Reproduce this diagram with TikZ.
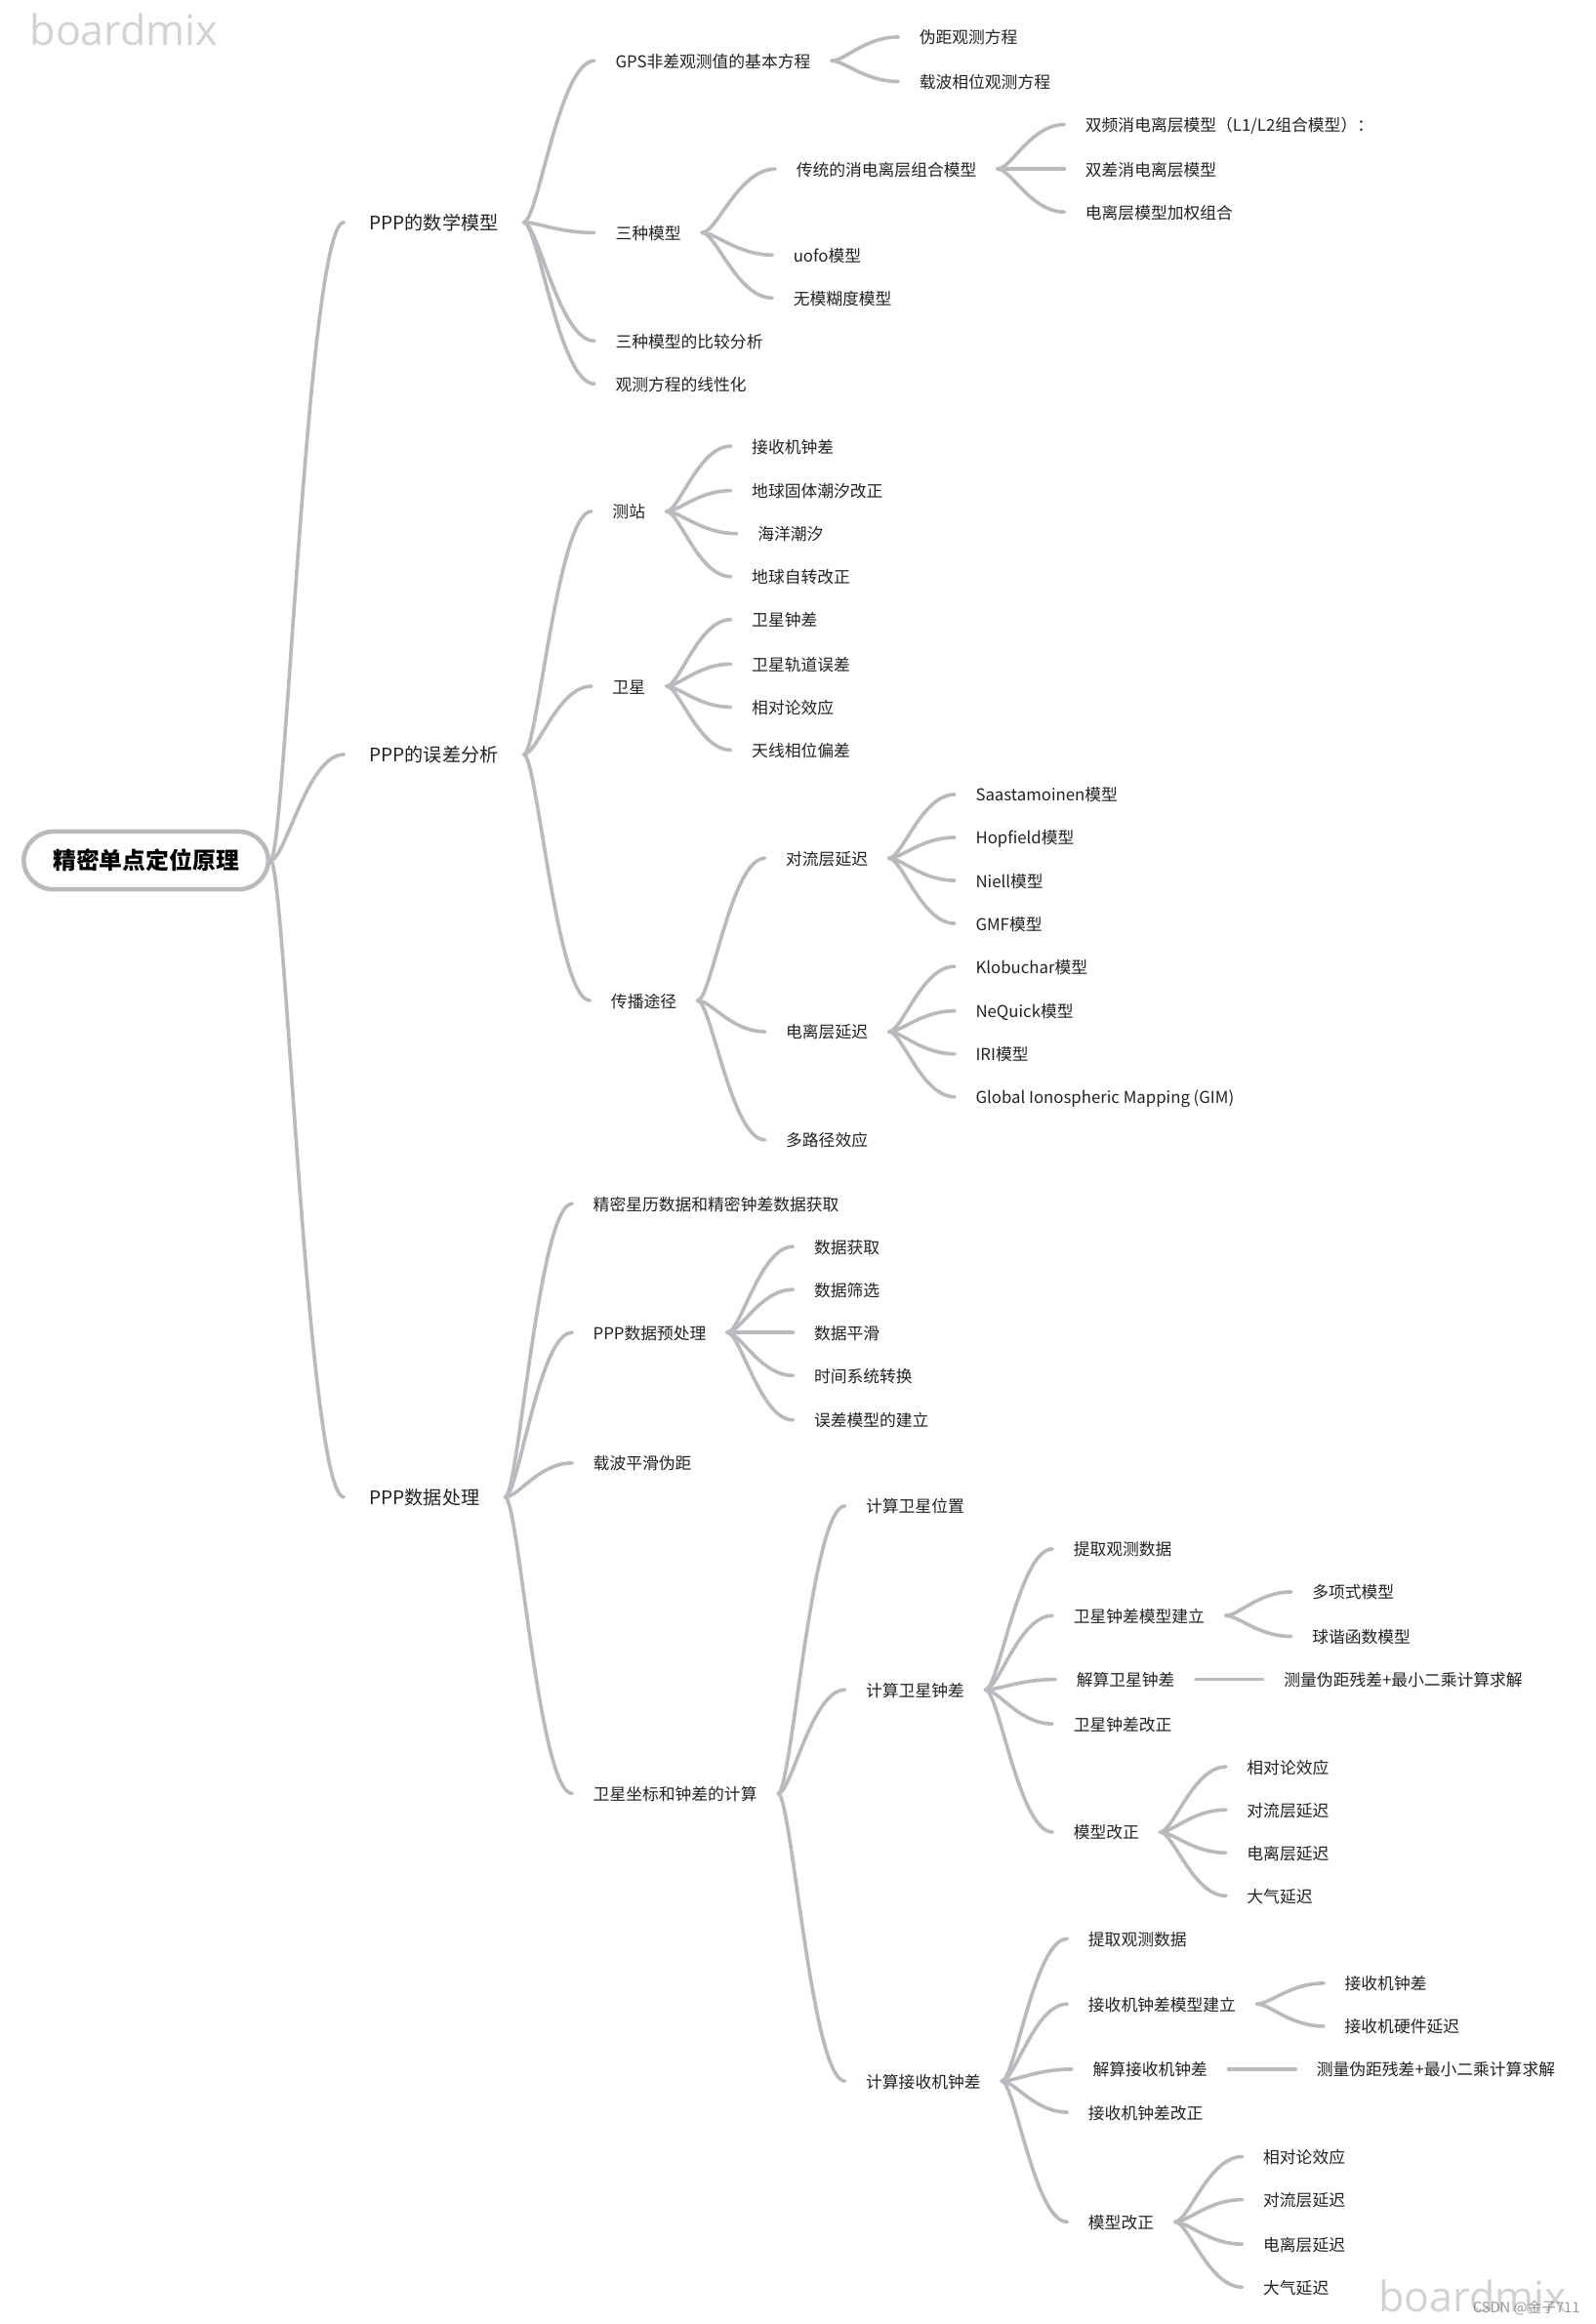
\documentclass[tikz,border=0pt]{standalone}
\usepackage{fontspec}
\setmainfont{Noto Sans CJK SC}
\newfontfamily\markfont{Open Sans}
\usetikzlibrary{calc}
\definecolor{twigcol}{HTML}{B9BABD}
\definecolor{inkcol}{HTML}{222222}
\definecolor{markcol}{HTML}{D2D2D2}
\tikzset{
  rootbox/.style={draw=twigcol,line width=3pt,rounded corners=20pt,minimum width=165pt,minimum height=39pt,font=\fontsize{15.7}{18}\selectfont\bfseries,text=black},
  lone/.style={anchor=west,inner xsep=17pt,xshift=-17pt,inner ysep=0pt,text height=11.6pt,text depth=1.5pt,font=\fontsize{12.6}{15}\selectfont,text=inkcol},
  leaf/.style={anchor=west,inner xsep=14pt,xshift=-14pt,inner ysep=0pt,text height=10.5pt,text depth=1.3pt,font=\fontsize{11.05}{13}\selectfont,text=inkcol},
  twig/.style={draw=twigcol,line width=2.4pt,line cap=round},
  wmark/.style={anchor=west,inner sep=0pt,text=markcol,font=\markfont\fontsize{28.3}{30}\selectfont}
}
\begin{document}
\begin{tikzpicture}[x=1pt,y=-1pt]
\useasboundingbox (0,0) rectangle (1076,1567.9);
%\draw [help lines] (0,0) grid (1076,1568);
\node [wmark] (marka) at (20,20) {boardmix};
\node [wmark] (markb) at (930,1549) {boardmix};
\node [rootbox] (root) at (98.5,580.5) {精密单点定位原理};
\node [lone] (ma) at (249,150) {PPP的数学模型}; \node [lone] (er) at (249,509) {PPP的误差分析}; \node [lone] (da) at (249,1010) {PPP数据处理};
% first branch
\node [leaf] (gps) at (415,41) {GPS非差观测值的基本方程}; \node [leaf] (pr) at (620,25) {伪距观测方程}; \node [leaf] (cp) at (620,55) {载波相位观测方程};
\node [leaf] (three) at (415,157) {三种模型}; \node [leaf] (ifc) at (537,114) {传统的消电离层组合模型}; \node [leaf] (uofo) at (535,172) {uofo模型}; \node [leaf] (noam) at (535,201) {无模糊度模型};
\node [leaf] (dual) at (732,84) {双频消电离层模型（L1/L2组合模型）：}; \node [leaf] (ddif) at (732,114) {双差消电离层模型}; \node [leaf] (wion) at (732,143) {电离层模型加权组合};
\node [leaf] (cmp) at (415,230) {三种模型的比较分析}; \node [leaf] (lin) at (415,259) {观测方程的线性化};
% second branch
\node [leaf] (sta) at (413,345) {测站}; \node [leaf] (rclk) at (507,301) {接收机钟差}; \node [leaf] (tide) at (507,331) {地球固体潮汐改正}; \node [leaf] (ocean) at (511,360) {海洋潮汐}; \node [leaf] (rot) at (507,389) {地球自转改正};
\node [leaf] (sat) at (413,463) {卫星}; \node [leaf] (sclk) at (507,418) {卫星钟差}; \node [leaf] (orb) at (507,448) {卫星轨道误差}; \node [leaf] (rel) at (507,477) {相对论效应}; \node [leaf] (ant) at (507,506) {天线相位偏差};
\node [leaf] (path) at (412,675) {传播途径}; \node [leaf] (tro) at (530,579) {对流层延迟}; \node [leaf] (ion) at (530,696) {电离层延迟}; \node [leaf] (mp) at (530,769) {多路径效应};
\node [leaf] (saas) at (658,536) {Saastamoinen模型}; \node [leaf] (hop) at (658,565) {Hopfield模型}; \node [leaf] (niell) at (658,594) {Niell模型}; \node [leaf] (gmf) at (658,623) {GMF模型};
\node [leaf] (klo) at (658,652) {Klobuchar模型}; \node [leaf] (neq) at (658,682) {NeQuick模型}; \node [leaf] (iri) at (658,711) {IRI模型}; \node [leaf] (gim) at (658,740) {Global Ionospheric Mapping (GIM)};
% third branch
\node [leaf] (eph) at (400,812) {精密星历数据和精密钟差数据获取}; \node [leaf] (pre) at (400,899) {PPP数据预处理}; \node [leaf] (smo) at (400,987) {载波平滑伪距}; \node [leaf] (calc) at (400,1210) {卫星坐标和钟差的计算};
\node [leaf] (pa) at (549,841) {数据获取}; \node [leaf] (pb) at (549,870) {数据筛选}; \node [leaf] (pc) at (549,899) {数据平滑}; \node [leaf] (pd) at (549,928) {时间系统转换}; \node [leaf] (pe) at (549,958) {误差模型的建立};
\node [leaf] (cpos) at (584,1016) {计算卫星位置}; \node [leaf] (cs) at (584,1140) {计算卫星钟差}; \node [leaf] (cr) at (584,1404) {计算接收机钟差};
\node [leaf] (sa) at (724,1045) {提取观测数据}; \node [leaf] (sb) at (724,1090) {卫星钟差模型建立}; \node [leaf] (sc) at (726,1133) {解算卫星钟差}; \node [leaf] (sd) at (724,1163) {卫星钟差改正}; \node [leaf] (se) at (724,1236) {模型改正};
\node [leaf] (sba) at (885,1074) {多项式模型}; \node [leaf] (sbb) at (885,1104) {球谐函数模型}; \node [leaf] (sca) at (866,1133) {测量伪距残差+最小二乘计算求解};
\node [leaf] (sea) at (841,1192) {相对论效应}; \node [leaf] (seb) at (841,1221) {对流层延迟}; \node [leaf] (sec) at (841,1250) {电离层延迟}; \node [leaf] (sed) at (841,1279) {大气延迟};
\node [leaf] (ra) at (734,1308) {提取观测数据}; \node [leaf] (rb) at (734,1352) {接收机钟差模型建立}; \node [leaf] (rc) at (737,1396) {解算接收机钟差}; \node [leaf] (rd) at (734,1425) {接收机钟差改正}; \node [leaf] (re) at (734,1499) {模型改正};
\node [leaf] (rba) at (907,1338) {接收机钟差}; \node [leaf] (rbb) at (907,1367) {接收机硬件延迟}; \node [leaf] (rca) at (888,1396) {测量伪距残差+最小二乘计算求解};
\node [leaf] (rea) at (852,1455) {相对论效应}; \node [leaf] (reb) at (852,1484) {对流层延迟}; \node [leaf] (rec) at (852,1514) {电离层延迟}; \node [leaf] (red) at (852,1543) {大气延迟};
\node [anchor=east,inner sep=0pt,text=gray,opacity=0.8,font=\fontsize{9.7}{11}\selectfont] (csdn) at (1066,1557) {CSDN @金子711};
% connectors
\foreach \a/\b in {root/ma,root/er,root/da,ma/gps,ma/three,ma/cmp,ma/lin,gps/pr,gps/cp,three/ifc,three/uofo,three/noam,ifc/dual,ifc/ddif,ifc/wion,
  er/sta,er/sat,er/path,sta/rclk,sta/tide,sta/ocean,sta/rot,sat/sclk,sat/orb,sat/rel,sat/ant,path/tro,path/ion,path/mp,tro/saas,tro/hop,tro/niell,tro/gmf,ion/klo,ion/neq,ion/iri,ion/gim,
  da/eph,da/pre,da/smo,da/calc,pre/pa,pre/pb,pre/pc,pre/pd,pre/pe,calc/cpos,calc/cs,calc/cr,cs/sa,cs/sb,cs/sc,cs/sd,cs/se,sb/sba,sb/sbb,se/sea,se/seb,se/sec,se/sed,
  cr/ra,cr/rb,cr/rc,cr/rd,cr/re,rb/rba,rb/rbb,re/rea,re/reb,re/rec,re/red}
  \draw [twig] let \p1=(\a.east), \p2=(\b.west) in (\p1) .. controls ({\x1+0.2*(\x2-\x1)},\y1) and ({\x1+0.5*(\x2-\x1)},\y2) .. (\p2);
\draw [twig] (sc) -- (sca); \draw [twig] (rc) -- (rca);
\end{tikzpicture}
\end{document}
